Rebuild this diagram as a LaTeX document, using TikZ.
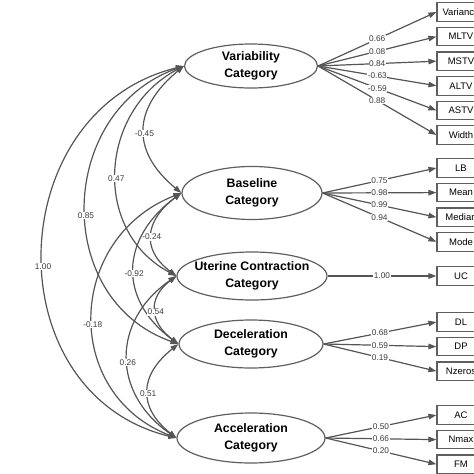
\documentclass[tikz,border=0pt]{standalone}
\usepackage{fontspec}
\setmainfont{Liberation Sans}
\usepackage{tikz}
\usetikzlibrary{
  positioning,
  arrows.meta,
  shapes.geometric
}
\definecolor{edgegray}{RGB}{85,85,85}
\definecolor{shapeborder}{RGB}{95,95,95}
\definecolor{coefgray}{RGB}{60,60,60}
\tikzset{
  latent/.style={
    ellipse, draw=shapeborder, line width=1.2pt, inner sep=0pt,
    font=\fontsize{12.3}{16.5}\selectfont\bfseries, align=center
  },
  manifest/.style={
    draw=shapeborder, line width=1.1pt,
    minimum width=48pt, minimum height=18.5pt, inner sep=0pt,
    font=\fontsize{9.5}{11}\selectfont
  },
  loadarrow/.style={
    -{Triangle[length=8pt,width=5.5pt]}, line width=1.2pt, draw=edgegray
  },
  covarrow/.style={
    {Triangle[length=8pt,width=5.5pt]}-{Triangle[length=8pt,width=5.5pt]},
    line width=1.2pt, draw=edgegray
  },
  coef/.style={
    fill=white, inner sep=0.6pt, text=coefgray,
    font=\fontsize{8.3}{9}\selectfont
  }
}

\begin{document}
\begin{tikzpicture}[x=1pt, y=-1pt, node distance=5pt]

    \useasboundingbox (0,0) rectangle (474,474);
    \clip (0,0) rectangle (474,474);

    \node[latent, minimum width=133pt, minimum height=44pt] (var) at (251,66) {Variability\\Category};
    \node[latent, minimum width=140pt, minimum height=53pt] (base) at (252,193) {Baseline\\Category};
    \node[latent, minimum width=150pt, minimum height=48pt, inner xsep=-5pt] (uc) at (252,276) {Uterine Contraction\\Category};
    \node[latent, minimum width=144pt, minimum height=48pt] (dec) at (251,344) {Deceleration\\Category};
    \node[latent, minimum width=148pt, minimum height=50pt] (acc) at (251,438) {Acceleration\\Category};

    \node[manifest] (vari) at (461,12) {Variance};
    \node[manifest, below=of vari] (mltv) {MLTV};
    \node[manifest, below=of mltv] (mstv) {MSTV};
    \node[manifest, below=of mstv] (altv) {ALTV};
    \node[manifest, below=of altv] (astv) {ASTV};
    \node[manifest, below=of astv] (wid) {Width};

    \node[manifest] (lb) at (461,168) {LB};
    \node[manifest, below=of lb] (mean) {Mean};
    \node[manifest, below=of mean] (median) {Median};
    \node[manifest, below=of median] (mode) {Mode};

    \node[manifest] (ucbox) at (461,276) {UC};

    \node[manifest] (dl) at (461,322) {DL};
    \node[manifest, below=of dl] (dp) {DP};
    \node[manifest, below=of dp] (nzeros) {Nzeros};

    \node[manifest] (ac) at (461,415) {AC};
    \node[manifest, below=of ac] (nmax) {Nmax};
    \node[manifest, below=of nmax] (fm) {FM};

    \draw[loadarrow] (var.east) -- node[coef] {0.66} (vari.west);
    \draw[loadarrow] (var.east) -- node[coef] {0.08} (mltv.west);
    \draw[loadarrow] (var.east) -- node[coef] {0.84} (mstv.west);
    \draw[loadarrow] (var.east) -- node[coef] {-0.63} (altv.west);
    \draw[loadarrow] (var.east) -- node[coef] {-0.59} (astv.west);
    \draw[loadarrow] (var.east) -- node[coef] {0.88} (wid.west);

    \draw[loadarrow] (base.east) -- node[coef] {0.75} (lb.west);
    \draw[loadarrow] (base.east) -- node[coef] {0.98} (mean.west);
    \draw[loadarrow] (base.east) -- node[coef] {0.99} (median.west);
    \draw[loadarrow] (base.east) -- node[coef] {0.94} (mode.west);

    \draw[loadarrow] (uc.east) -- node[coef] {1.00} (ucbox.west);

    \draw[loadarrow] (dec.east) -- node[coef] {0.68} (dl.west);
    \draw[loadarrow] (dec.east) -- node[coef] {0.59} (dp.west);
    \draw[loadarrow] (dec.east) -- node[coef] {0.19} (nzeros.west);

    \draw[loadarrow] (acc.east) -- node[coef] {0.50} (ac.west);
    \draw[loadarrow] (acc.east) -- node[coef] {0.66} (nmax.west);
    \draw[loadarrow] (acc.east) -- node[coef] {0.20} (fm.west);

    \draw[covarrow] (var.west) .. controls +(-51,42) and +(-51,-42) .. node[coef, pos=0.53] {-0.45} (base.west);
    \draw[covarrow] (var.west) .. controls +(-85,45) and +(-85,-45) .. node[coef, pos=0.53] {0.47} (uc.west);
    \draw[covarrow] (var.west) .. controls +(-127,45) and +(-127,-45) .. node[coef, pos=0.53] {0.85} (dec.west);
    \draw[covarrow] (var.west) .. controls +(-183,45) and +(-183,-45) .. node[coef, pos=0.53] {1.00} (acc.west);
    \draw[covarrow] (base.west) .. controls +(-36,27) and +(-36,-27) .. node[coef, pos=0.53] {-0.24} (uc.west);
    \draw[covarrow] (base.west) .. controls +(-61,45) and +(-61,-45) .. node[coef, pos=0.53] {-0.92} (dec.west);
    \draw[covarrow] (base.west) .. controls +(-115,45) and +(-115,-45) .. node[coef, pos=0.53] {-0.18} (acc.west);
    \draw[covarrow] (uc.west) .. controls +(-29,22) and +(-29,-22) .. node[coef, pos=0.53] {0.54} (dec.west);
    \draw[covarrow] (uc.west) .. controls +(-65,45) and +(-65,-45) .. node[coef, pos=0.53] {0.26} (acc.west);
    \draw[covarrow] (dec.west) .. controls +(-39,31) and +(-39,-31) .. node[coef, pos=0.53] {0.51} (acc.west);

\end{tikzpicture}
\end{document}
